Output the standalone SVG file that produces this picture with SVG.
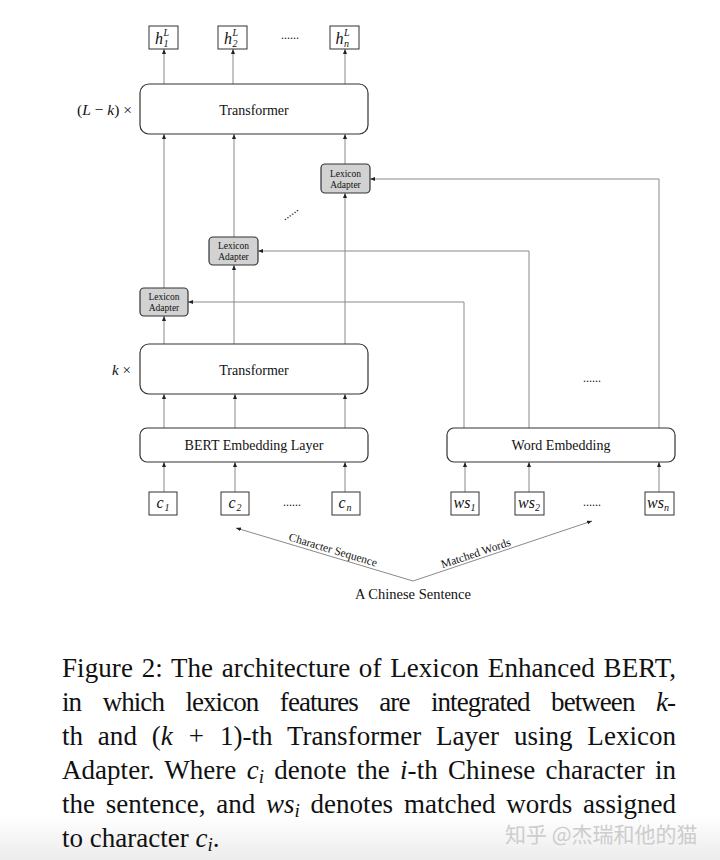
<svg xmlns="http://www.w3.org/2000/svg" width="720" height="860" viewBox="0 0 720 860">
<style>
.sq{fill:#fff;stroke:#333;stroke-width:1}
.rb{fill:#fff;stroke:#333;stroke-width:1.2}
.la{fill:#d2d2d2;stroke:#333;stroke-width:1.2}
.ln{fill:none;stroke:#8a8a8a;stroke-width:1}
.t{font-family:"Liberation Serif","Times New Roman",serif;fill:#111}
.c{text-anchor:middle}
.m{font-family:"Liberation Serif","Times New Roman",serif;font-style:italic;fill:#111;font-size:16px}
.ms{font-family:"Liberation Serif","Times New Roman",serif;font-style:italic;fill:#111;font-size:10px}
.cap{font-family:"Liberation Serif","Times New Roman",serif;font-size:27px;fill:#111}
.i{font-style:italic}
</style>
<defs>
<marker id="ah" viewBox="0 0 10 10" refX="10" refY="5" markerWidth="5" markerHeight="5" markerUnits="userSpaceOnUse" orient="auto">
<path d="M0,1 L10,5 L0,9 z" fill="#222"/>
</marker>
<linearGradient id="bg" x1="0" y1="0" x2="0" y2="1">
<stop offset="0" stop-color="#ffffff"/>
<stop offset="1" stop-color="#ececec"/>
</linearGradient>
</defs>
<rect x="0" y="0" width="720" height="860" fill="#fff"/>
<rect x="0" y="815" width="720" height="45" fill="url(#bg)"/>

<g id="connectors" class="ln" marker-end="url(#ah)">
<path d="M164,492 V462"/>
<path d="M235,492 V462"/>
<path d="M345,492 V462"/>
<path d="M164,428 V394"/>
<path d="M235,428 V394"/>
<path d="M345,428 V394"/>
<path d="M164,344 V316"/>
<path d="M234,344 V265"/>
<path d="M345,344 V193"/>
<path d="M164,288 V134"/>
<path d="M234,237 V134"/>
<path d="M345,164 V134"/>
<path d="M164,84 V49"/>
<path d="M233,84 V49"/>
<path d="M345,84 V49"/>
<path d="M465,492 V462"/>
<path d="M529,492 V462"/>
<path d="M659,492 V462"/>
<path d="M464,428 V302 H188"/>
<path d="M529,428 V251 H258"/>
<path d="M659,428 V179 H370"/>
<path d="M413,581 L236,528"/>
<path d="M413,581 L592,521"/>
</g>

<g id="h1"><rect class="sq" x="149" y="26" width="29" height="23"/><text class="m" x="155" y="44" font-size="17">h</text><text class="ms" x="163.5" y="36">L</text><text class="ms" x="163.5" y="47" font-style="normal">1</text></g>
<g id="h2"><rect class="sq" x="218" y="26" width="29" height="23"/><text class="m" x="224" y="44" font-size="17">h</text><text class="ms" x="232.5" y="36">L</text><text class="ms" x="232.5" y="47" font-style="normal">2</text></g>
<g id="hdots"><text class="t c" x="290" y="39" font-size="12">......</text></g>
<g id="hn"><rect class="sq" x="330" y="26" width="29" height="23"/><text class="m" x="335.5" y="44" font-size="17">h</text><text class="ms" x="344" y="36">L</text><text class="ms" x="344" y="47">n</text></g>

<g id="transformer-top"><rect class="rb" x="140" y="84" width="228" height="50" rx="9"/><text class="t c" x="254" y="115" font-size="14">Transformer</text></g>
<g id="lk-label"><text class="t" x="77" y="115" font-size="15.5">(<tspan class="i">L</tspan> − <tspan class="i">k</tspan>) ×</text></g>

<g id="adapter3"><rect class="la" x="321" y="164" width="49" height="29" rx="4"/><text class="t c" x="345.5" y="177" font-size="9.5">Lexicon</text><text class="t c" x="345.5" y="188" font-size="9.5">Adapter</text></g>
<g id="adapter2"><rect class="la" x="209" y="237" width="49" height="28" rx="4"/><text class="t c" x="233.5" y="249" font-size="9.5">Lexicon</text><text class="t c" x="233.5" y="260" font-size="9.5">Adapter</text></g>
<g id="adapter1"><rect class="la" x="140" y="288" width="48" height="28" rx="4"/><text class="t c" x="164" y="300" font-size="9.5">Lexicon</text><text class="t c" x="164" y="311" font-size="9.5">Adapter</text></g>
<g id="adapter-dots"><text class="t c" x="290" y="216" font-size="12" transform="rotate(-36 290 213)">......</text></g>

<g id="transformer-k"><rect class="rb" x="140" y="344" width="228" height="50" rx="9"/><text class="t c" x="254" y="375" font-size="14">Transformer</text></g>
<g id="k-label"><text class="t" x="112" y="375" font-size="15"><tspan class="i">k</tspan> ×</text></g>

<g id="bert-embedding"><rect class="rb" x="140" y="428" width="228" height="34" rx="7"/><text class="t c" x="254" y="450" font-size="14">BERT Embedding Layer</text></g>
<g id="word-embedding"><rect class="rb" x="447" y="428" width="228" height="34" rx="7"/><text class="t c" x="561" y="450" font-size="14">Word Embedding</text></g>
<g id="we-dots"><text class="t c" x="592" y="382" font-size="12">......</text></g>

<g id="c1"><rect class="sq" x="149" y="492" width="28" height="23"/><text class="m" x="156.5" y="508" font-size="17">c</text><text class="ms" x="164.5" y="511" font-style="normal">1</text></g>
<g id="c2"><rect class="sq" x="221" y="492" width="28" height="23"/><text class="m" x="228.5" y="508" font-size="17">c</text><text class="ms" x="236.5" y="511" font-style="normal">2</text></g>
<g id="cdots"><text class="t c" x="292" y="506" font-size="12">......</text></g>
<g id="cn"><rect class="sq" x="332" y="492" width="28" height="23"/><text class="m" x="338.5" y="508" font-size="17">c</text><text class="ms" x="346.5" y="511">n</text></g>

<g id="ws1"><rect class="sq" x="451" y="492" width="28" height="23"/><text class="m" x="453.5" y="508">ws</text><text class="ms" x="470.5" y="511" font-style="normal">1</text></g>
<g id="ws2"><rect class="sq" x="515" y="492" width="29" height="23"/><text class="m" x="518" y="508">ws</text><text class="ms" x="535" y="511" font-style="normal">2</text></g>
<g id="wsdots"><text class="t c" x="592" y="506" font-size="12">......</text></g>
<g id="wsn"><rect class="sq" x="645" y="492" width="29" height="23"/><text class="m" x="647" y="508">ws</text><text class="ms" x="664" y="511">n</text></g>

<g id="sentence">
<text class="t c" x="413" y="599" font-size="14.5">A Chinese Sentence</text>
<text class="t c" x="332" y="553.5" font-size="11.5" transform="rotate(16.7 332 553.5)">Character Sequence</text>
<text class="t c" x="477" y="556.8" font-size="11.5" transform="rotate(-18.5 477 556.8)">Matched Words</text>
</g>

<g id="caption">
<text class="cap" x="62" y="677" word-spacing="1.8" textLength="614" lengthAdjust="spacing">Figure 2: The architecture of Lexicon Enhanced BERT,</text>
<text class="cap" x="62" y="711" word-spacing="15.7" textLength="614" lengthAdjust="spacing">in which lexicon features are integrated between <tspan class="i">k</tspan>-</text>
<text class="cap" x="62" y="745" word-spacing="8" textLength="614" lengthAdjust="spacing">th and (<tspan class="i">k</tspan><tspan dx="16">+</tspan><tspan dx="16">1)-th</tspan> Transformer Layer using Lexicon</text>
<text class="cap" x="62" y="779" word-spacing="3.5" textLength="614" lengthAdjust="spacing">Adapter. Where <tspan class="i">c</tspan><tspan class="i" font-size="19" dy="4">i</tspan><tspan dy="-4"> denote the </tspan><tspan class="i">i</tspan>-th Chinese character in</text>
<text class="cap" x="62" y="813" word-spacing="4" textLength="614" lengthAdjust="spacing">the sentence, and <tspan class="i">ws</tspan><tspan class="i" font-size="19" dy="4">i</tspan><tspan dy="-4"> denotes matched words assigned</tspan></text>
<text class="cap" x="62" y="847">to character <tspan class="i">c</tspan><tspan class="i" font-size="19" dy="4">i</tspan><tspan dy="-4">.</tspan></text>
</g>

<g id="watermark"><text x="505" y="842" font-size="21" fill="#cdcdcd" font-family="'Noto Sans CJK SC','Noto Sans',sans-serif">知乎 @杰瑞和他的猫</text></g>
</svg>
